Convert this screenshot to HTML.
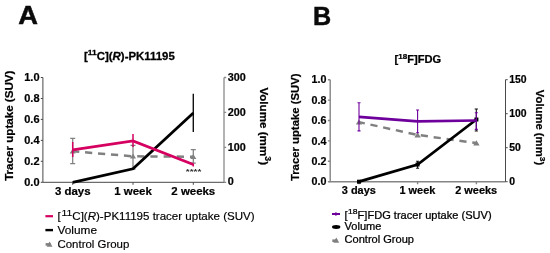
<!DOCTYPE html>
<html><head><meta charset="utf-8"><title>Figure</title>
<style>
html,body{margin:0;padding:0;background:#fff;}
svg{display:block;font-family:"Liberation Sans",Arial,sans-serif;}
.b{font-weight:bold;}
.tk{font-weight:bold;font-size:10.4px;fill:#000;stroke:#000;stroke-width:0.2px;}
.ti{font-weight:bold;font-size:10.1px;fill:#000;stroke:#000;stroke-width:0.25px;}
.lg{font-size:10.4px;fill:#000;stroke:#000;stroke-width:0.15px;}
.big{font-weight:bold;font-size:26px;fill:#0a0a0a;stroke:#0a0a0a;stroke-width:0.5px;}
.st{font-weight:bold;font-size:7.4px;fill:#2a2a2a;}
</style></head><body>
<svg width="550" height="253" viewBox="0 0 550 253">
<rect width="550" height="253" fill="#fff"/>

<!-- PANEL A -->
<text class="big" text-anchor="start" transform="translate(18.3 24.4) scale(1.05 1)" >A</text>
<text class="ti" text-anchor="start" transform="translate(84.0 60.0) scale(1.13 1)" >[<tspan font-size="7.5" dy="-4.6" dx="0">11</tspan><tspan dy="4.6">C](</tspan><tspan font-style="italic">R</tspan>)-PK11195</text>
<g stroke="#484848" stroke-width="1" fill="none">
<path d="M42.9 77.5V182.3H224"/>
<path d="M40.8 77.5h2.1M40.8 98.5h2.1M40.8 119.4h2.1M40.8 140.4h2.1M40.8 161.3h2.1M40.8 182.3h2.1"/>
<path d="M72.7 182.3v2.5M133 182.3v2.5M193.3 182.3v2.5"/>
</g>
<g stroke="#8a8a8a" stroke-width="1.3" fill="none">
<path d="M224 77.5V182.3"/>
<path d="M224 77.5h2.2M224 112.4h2.2M224 147.4h2.2M224 182.3h2.2"/>
</g>
<text class="tk" text-anchor="end" transform="translate(39.5 81.3) scale(1.02 1)" style="font-size:10.8px">1.0</text>
<text class="tk" text-anchor="end" transform="translate(39.5 102.3) scale(1.02 1)" style="font-size:10.8px">0.8</text>
<text class="tk" text-anchor="end" transform="translate(39.5 123.2) scale(1.02 1)" style="font-size:10.8px">0.6</text>
<text class="tk" text-anchor="end" transform="translate(39.5 144.2) scale(1.02 1)" style="font-size:10.8px">0.4</text>
<text class="tk" text-anchor="end" transform="translate(39.5 165.1) scale(1.02 1)" style="font-size:10.8px">0.2</text>
<text class="tk" text-anchor="end" transform="translate(39.5 186.1) scale(1.02 1)" style="font-size:10.8px">0.0</text>
<text class="tk" text-anchor="start" transform="translate(227.8 80.6) scale(1.04 1)" >300</text>
<text class="tk" text-anchor="start" transform="translate(227.8 115.5) scale(1.04 1)" >200</text>
<text class="tk" text-anchor="start" transform="translate(227.8 150.5) scale(1.04 1)" >100</text>
<text class="tk" text-anchor="start" transform="translate(227.8 185.4) scale(1.04 1)" >0</text>
<text class="tk" text-anchor="middle" transform="translate(72.7 194.6) scale(1.1 1)" >3 days</text>
<text class="tk" text-anchor="middle" transform="translate(133 194.6) scale(1.1 1)" >1 week</text>
<text class="tk" text-anchor="middle" transform="translate(193.3 194.6) scale(1.1 1)" >2 weeks</text>
<text class="tk" text-anchor="middle" transform="translate(12.5 125.7) rotate(-90) scale(1.118 1)" >Tracer uptake (SUV)</text>
<text class="tk" text-anchor="middle" transform="translate(259.8 126.2) rotate(90) scale(1.12 1.05)" >Volume (mm<tspan font-size="7.8" dy="-4.6" dx="0">3</tspan><tspan dy="4.6">)</tspan></text>
<g stroke="#808080" fill="none">
<path d="M72.7 138.3V163.6M70.2 138.3h5M70.2 163.6h5M133 145.4V169M130.5 145.4h5M130.5 169h5M193.3 149.5V163M190.8 149.5h5M190.8 163h5" stroke-width="1.25"/>
<path d="M72.7 151.3L133 156.3" stroke-width="2.5" stroke-dasharray="7.2 5.8" stroke-dashoffset="0.6"/>
<path d="M133 156.3L193.3 156.7" stroke-width="2.5" stroke-dasharray="7.2 6" stroke-dashoffset="-4.2"/>
</g>
<path fill="#808080" d="M72.7 148.5l3 5h-6zM133 153.5l3 5h-6zM193.3 154l3 5h-6z"/>
<path d="M193.3 93.7V132" stroke="#111" stroke-width="1.4" fill="none"/>
<path d="M72.7 182.4L133 168.8L193.3 113" stroke="#000" stroke-width="2.8" fill="none"/>
<path d="M72.7 142V157M133 133.9V147M193.3 164V166.5" stroke="#d50060" stroke-width="1.5" fill="none"/>
<path d="M72.7 149.8L133 140.9L193.3 164.5" stroke="#d50060" stroke-width="2.8" fill="none"/>
<text class="st" text-anchor="middle" transform="translate(193.6 173.7) scale(1.35 1)" >****</text>
<path d="M45.4 216.2h7.6" stroke="#d50060" stroke-width="2.2"/>
<path d="M45.4 230.1h7.6" stroke="#000" stroke-width="2.4"/>
<path d="M45.6 244.4h5" stroke="#808080" stroke-width="2.6"/>
<path d="M49.6 241.5l2.9 5.2h-5.8z" fill="#808080"/>
<text class="lg" text-anchor="start" transform="translate(57.5 219.5) scale(1.133 1)" style="font-size:10.2px">[<tspan font-size="9.2" dy="-3.7" dx="0.7">11</tspan><tspan dy="3.8">C](</tspan><tspan font-style="italic">R</tspan>)-PK11195 tracer uptake (SUV)</text>
<text class="lg" text-anchor="start" transform="translate(57.5 234.0) scale(1.14 1)" >Volume</text>
<text class="lg" text-anchor="start" transform="translate(57.5 247.6) scale(1.08 1)" style="font-size:10.6px">Control Group</text>
<!-- PANEL B -->
<text class="big" text-anchor="start" transform="translate(313.0 24.6) scale(0.97 1)" >B</text>
<text class="ti" text-anchor="start" transform="translate(394.6 62.8) scale(1.1 1)" >[<tspan font-size="7.3" dy="-4.0" dx="0">18</tspan><tspan dy="4.0">F]FDG</tspan></text>
<g stroke="#858585" stroke-width="1.4" fill="none">
<path d="M330.2 79.7V181.7H505.5"/>
<path d="M327.9 79.7h2.3M327.9 100.1h2.3M327.9 120.5h2.3M327.9 140.9h2.3M327.9 161.3h2.3M327.9 181.7h2.3"/>
<path d="M359 181.7v2.5M417.6 181.7v2.5M476.4 181.7v2.5"/>
</g>
<g stroke="#4a4a4a" stroke-width="1" fill="none">
<path d="M505.5 79.7V181.7"/>
<path d="M505.5 79.7h2.2M505.5 113.7h2.2M505.5 147.7h2.2M505.5 181.7h2.2"/>
</g>
<text class="tk" text-anchor="end" transform="translate(326.5 83.4) scale(1.03 1)" >1.0</text>
<text class="tk" text-anchor="end" transform="translate(326.5 103.8) scale(1.03 1)" >0.8</text>
<text class="tk" text-anchor="end" transform="translate(326.5 124.2) scale(1.03 1)" >0.6</text>
<text class="tk" text-anchor="end" transform="translate(326.5 144.6) scale(1.03 1)" >0.4</text>
<text class="tk" text-anchor="end" transform="translate(326.5 165.0) scale(1.03 1)" >0.2</text>
<text class="tk" text-anchor="end" transform="translate(326.5 185.4) scale(1.03 1)" >0.0</text>
<text class="tk" text-anchor="start" transform="translate(509.3 82.8) scale(1.0 1)" >150</text>
<text class="tk" text-anchor="start" transform="translate(509.3 116.8) scale(1.0 1)" >100</text>
<text class="tk" text-anchor="start" transform="translate(509.3 150.8) scale(1.0 1)" >50</text>
<text class="tk" text-anchor="start" transform="translate(509.3 184.8) scale(1.0 1)" >0</text>
<text class="tk" text-anchor="middle" transform="translate(358.8 194.4) scale(1.05 1)" >3 days</text>
<text class="tk" text-anchor="middle" transform="translate(417.40000000000003 194.4) scale(1.05 1)" >1 week</text>
<text class="tk" text-anchor="middle" transform="translate(476.2 194.4) scale(1.05 1)" >2 weeks</text>
<text class="tk" text-anchor="middle" transform="translate(299.1 127.3) rotate(-90) scale(1.089 1.03)" >Tracer uptake (SUV)</text>
<text class="tk" text-anchor="middle" transform="translate(535.7 127.5) rotate(90) scale(1.085 0.96)" >Volume (mm<tspan font-size="7.8" dy="-4.6" dx="0">3</tspan><tspan dy="4.6">)</tspan></text>
<path d="M359 122.1L417.6 134.9" stroke="#808080" fill="none" stroke-width="2.5" stroke-dasharray="7.2 5.8" stroke-dashoffset="1.3"/>
<path d="M417.6 134.9L476.4 143.1" stroke="#808080" fill="none" stroke-width="2.5" stroke-dasharray="7.2 5.8" stroke-dashoffset="-3.2"/>
<path fill="#808080" d="M359 119.4l3.2 5.2h-6.4zM417.6 132.2l3.2 5.2h-6.4zM476.4 140.3l3.2 5.2h-6.4z"/>
<path d="M417.6 161.3V168.2M416.1 161.3h3M416.1 168.2h3M476.3 109V131M474.7 109h3.2M474.7 131h3.2" stroke="#111" stroke-width="1.1" fill="none"/>
<path d="M359 181.7L417.6 164.5L476.4 119.5" stroke="#000" stroke-width="2.8" fill="none"/>
<g fill="#000"><rect x="357" y="179.7" width="4" height="4"/><rect x="415.6" y="162.5" width="4" height="4"/><rect x="474.4" y="117.5" width="4" height="4"/></g>
<path d="M359 102.7V130.9M357.5 102.7h3M357.5 130.9h3M417.6 110V132.7M416.1 110h3M416.1 132.7h3M476.3 112.8V129.4M474.8 112.8h3M474.8 129.4h3" stroke="#6e009c" stroke-width="1.1" fill="none"/>
<path d="M359 116.9L417.6 121.3L476.4 120.5" stroke="#6e009c" stroke-width="2.7" fill="none"/>
<path d="M332 214h8" stroke="#6e009c" stroke-width="2"/>
<path d="M335.9 212.3v3.4" stroke="#6e009c" stroke-width="1.2"/>
<ellipse cx="336.2" cy="227.0" rx="4.2" ry="1.9" fill="#000"/>
<path d="M332.3 240.7h5" stroke="#808080" stroke-width="2.6"/>
<path d="M336.3 237.5l2.9 5.2h-5.8z" fill="#808080"/>
<text class="lg" text-anchor="start" transform="translate(344.4 218.5) scale(1.075 1.0)" style="font-size:10.3px;stroke-width:0.25px">[<tspan font-size="8.0" dy="-4.3" dx="0.5">18</tspan><tspan dy="4.3">F]FDG tracer uptake (SUV)</tspan></text>
<text class="lg" text-anchor="start" transform="translate(344.5 230.4) scale(1.075 1.0)" style="font-size:10.3px;stroke-width:0.25px">Volume</text>
<text class="lg" text-anchor="start" transform="translate(344.5 243.2) scale(1.075 1.0)" style="font-size:10.3px;stroke-width:0.25px">Control Group</text>
</svg>
</body></html>
